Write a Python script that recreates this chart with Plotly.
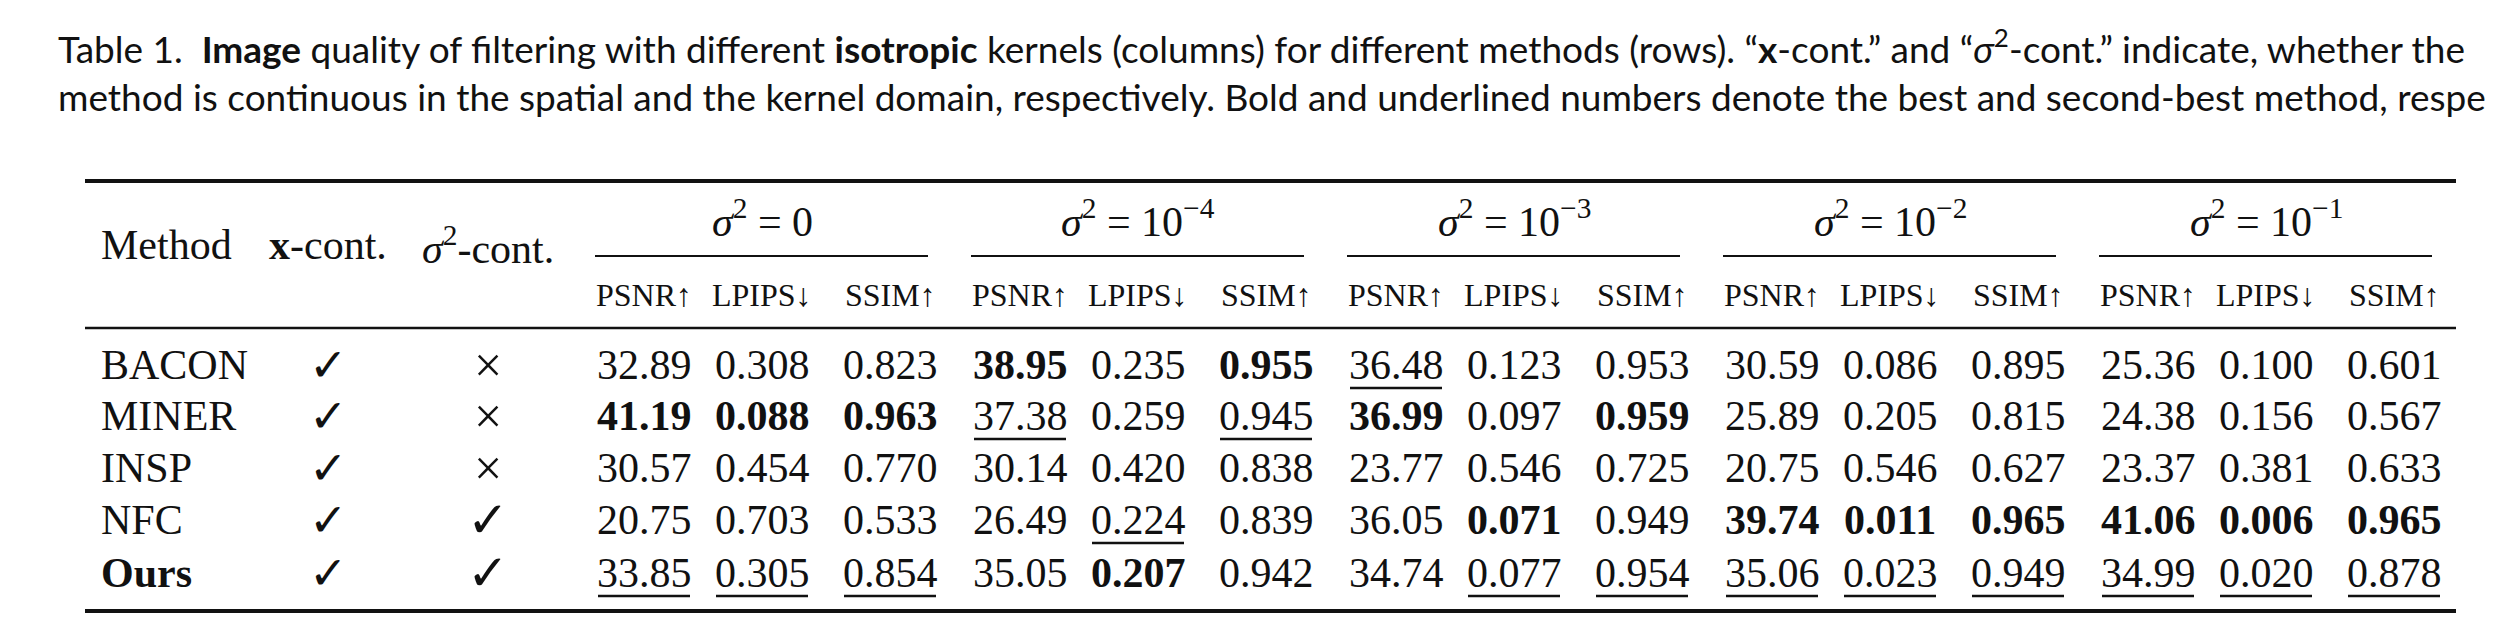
import plotly.graph_objects as go

methods = ["BACON", "MINER", "INSP", "NFC", "Ours"]
xcont = ["✓", "✓", "✓", "✓", "✓"]
scont = ["×", "×", "×", "✓", "✓"]
groups = ["0", "10<sup>−4</sup>", "10<sup>−3</sup>", "10<sup>−2</sup>", "10<sup>−1</sup>"]
metrics = ["PSNR↑", "LPIPS↓", "SSIM↑"]
values = [
    ["32.89", "0.308", "0.823", "38.95", "0.235", "0.955", "36.48", "0.123", "0.953", "30.59", "0.086", "0.895", "25.36", "0.100", "0.601"],
    ["41.19", "0.088", "0.963", "37.38", "0.259", "0.945", "36.99", "0.097", "0.959", "25.89", "0.205", "0.815", "24.38", "0.156", "0.567"],
    ["30.57", "0.454", "0.770", "30.14", "0.420", "0.838", "23.77", "0.546", "0.725", "20.75", "0.546", "0.627", "23.37", "0.381", "0.633"],
    ["20.75", "0.703", "0.533", "26.49", "0.224", "0.839", "36.05", "0.071", "0.949", "39.74", "0.011", "0.965", "41.06", "0.006", "0.965"],
    ["33.85", "0.305", "0.854", "35.05", "0.207", "0.942", "34.74", "0.077", "0.954", "35.06", "0.023", "0.949", "34.99", "0.020", "0.878"],
]
# b = bold (best), u = underlined (second best)
marks = [
    ["", "", "", "b", "", "b", "u", "", "", "", "", "", "", "", ""],
    ["b", "b", "b", "u", "", "u", "b", "", "b", "", "", "", "", "", ""],
    ["", "", "", "", "", "", "", "", "", "", "", "", "", "", ""],
    ["", "", "", "", "u", "", "", "b", "", "b", "b", "b", "b", "b", "b"],
    ["u", "u", "u", "", "b", "", "", "u", "u", "u", "u", "u", "u", "u", "u"],
]
caption1 = ("Table 1.  <b>Image</b> quality of filtering with different <b>isotropic</b> kernels (columns) for different methods (rows). "
            "“<b>x</b>-cont.” and “<i>σ</i><sup>2</sup>-cont.” indicate, whether the")
caption2 = ("method is continuous in the spatial and the kernel domain, respectively. Bold and underlined numbers denote the best and second-best method, respectively.")

W, H = 2494, 640
SERIF = "Liberation Serif"
fig = go.Figure()
ann = []
shapes = []

def txt(x, y, s, size=42, anchor="center", font=SERIF, color="#111"):
    ann.append(dict(x=x, y=y, xref="x", yref="y", text=s, showarrow=False,
                    xanchor=anchor, yanchor="middle", font=dict(family=font, size=size, color=color)))

def hline(x0, x1, y, w):
    shapes.append(dict(type="line", xref="x", yref="y", x0=x0, x1=x1, y0=y, y1=y,
                       line=dict(color="#111", width=w)))

# caption
txt(48, 38, caption1, size=37, anchor="left", font="Lato")
txt(48, 88, caption2, size=37, anchor="left", font="Lato")

L, R = 77, 2448
hline(L, R, 173, 4)
hline(L, R, 320, 2.5)
hline(L, R, 603, 4)

txt(91, 237, "Method", anchor="left")
txt(320, 237, "<b>x</b>-cont.")
txt(480, 237, "<i>σ</i><sup>2</sup>-cont.")

gcenters = [754 + 376 * g for g in range(5)]
offs = [-118, 0, 128]
for g, gc in enumerate(gcenters):
    txt(gc, 210, "<i>σ</i><sup>2</sup> = " + groups[g], size=42)
    hline(gc - 167, gc + 166, 248, 2)
    for k, m in enumerate(metrics):
        txt(gc + offs[k], 287, m, size=32)

rows_y = [357, 408, 460, 512, 565]
for r, m in enumerate(methods):
    y = rows_y[r]
    txt(91, y, "<b>Ours</b>" if m == "Ours" else m, anchor="left")
    txt(320, y, xcont[r], size=46)
    txt(480, y, scont[r], size=50)
    for c in range(15):
        x = gcenters[c // 3] + offs[c % 3]
        v = values[r][c]
        mk = marks[r][c]
        txt(x, y, f"<b>{v}</b>" if mk == "b" else v)
        if mk == "u":
            hline(x - 46, x + 46, y + 23, 2.5)

fig.update_layout(width=W, height=H, margin=dict(l=0, r=0, t=0, b=0),
                  paper_bgcolor="white", plot_bgcolor="white",
                  xaxis=dict(range=[0, W], visible=False, fixedrange=True),
                  yaxis=dict(range=[H, 0], visible=False, fixedrange=True),
                  annotations=ann, shapes=shapes, showlegend=False)
fig.write_html("out.html")
